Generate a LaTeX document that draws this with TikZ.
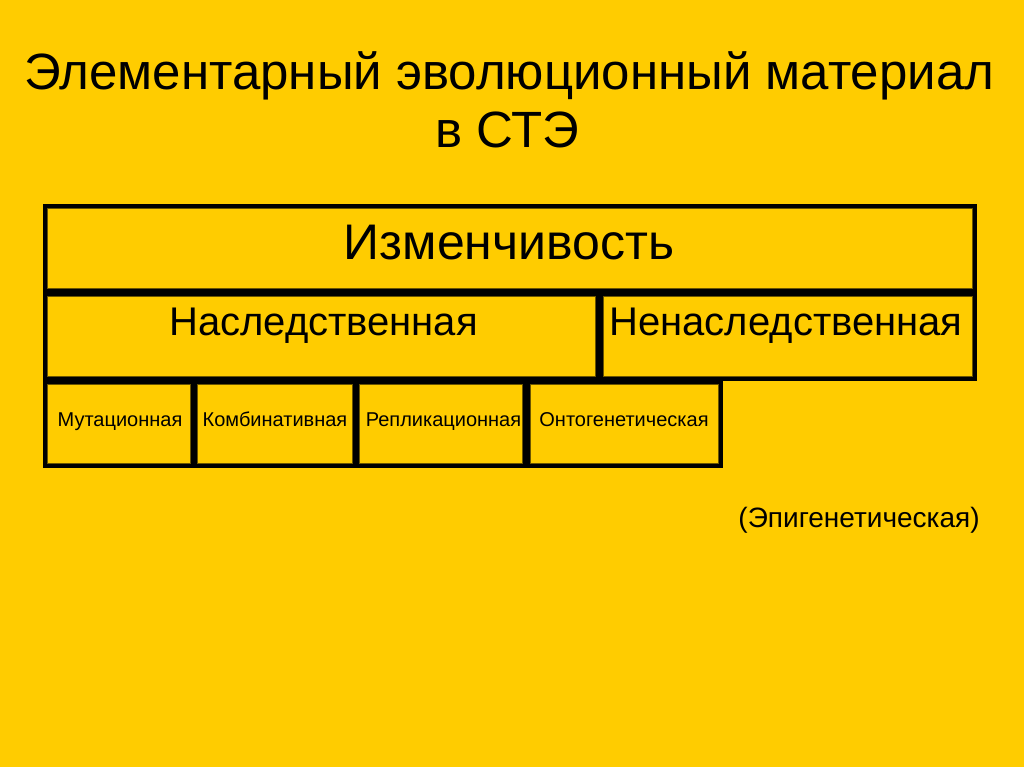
\documentclass[tikz,border=0pt]{standalone}
\usepackage{fontspec}
\setmainfont{Liberation Sans}
\definecolor{bgyellow}{HTML}{FFCC00}
\definecolor{shade}{HTML}{6B5500}
\begin{document}
\begin{tikzpicture}[x=1pt,y=-1pt,
  cell/.style={draw=black, line width=3.4pt},
  inset/.style={draw=shade, line width=0.9pt},
  big/.style={font=\fontsize{51}{51}\selectfont, anchor=base, inner sep=0pt},
  head/.style={font=\fontsize{50}{50}\selectfont, anchor=base, inner sep=0pt},
  mid/.style={font=\fontsize{40}{40}\selectfont, anchor=base, inner sep=0pt},
  small/.style={font=\fontsize{20}{20}\selectfont, anchor=base, inner sep=0pt},
  note/.style={font=\fontsize{28}{28}\selectfont, anchor=base, inner sep=0pt}]
\fill[bgyellow] (0,0) rectangle (1024,767);
\useasboundingbox (0,0) rectangle (1024,767);
% title
\node[big] (t1) at (509.5,90) {Элементарный эволюционный материал};
\node[big] (t2) at (507.5,148) {в СТЭ};
% cells (outer thick borders)
\foreach \xa/\ya/\xb/\yb in {45/206/975/291, 45/294/598/379, 601/294/975/379,
    45/382/193/466, 195/382/355/466, 357/382/525/466, 528/382/721/466}{
  \draw[cell] (\xa,\ya) rectangle (\xb,\yb);
  \draw[inset] (\xa+2.7,\ya+2.7) rectangle (\xb-2.7,\yb-2.7);
}
% texts
\node[head] (izm) at (509,259) {Изменчивость};
\node[mid] (nasl) at (323.5,335) {Наследственная};
\node[mid] (nenasl) at (786,335) {Ненаследственная};
\node[small] (mut) at (120,426) {Мутационная};
\node[small] (komb) at (275,426) {Комбинативная};
\node[small] (repl) at (443.5,426) {Репликационная};
\node[small] (onto) at (624,426) {Онтогенетическая};
\node[note] (epi) at (859,527) {(Эпигенетическая)};
\end{tikzpicture}
\end{document}
